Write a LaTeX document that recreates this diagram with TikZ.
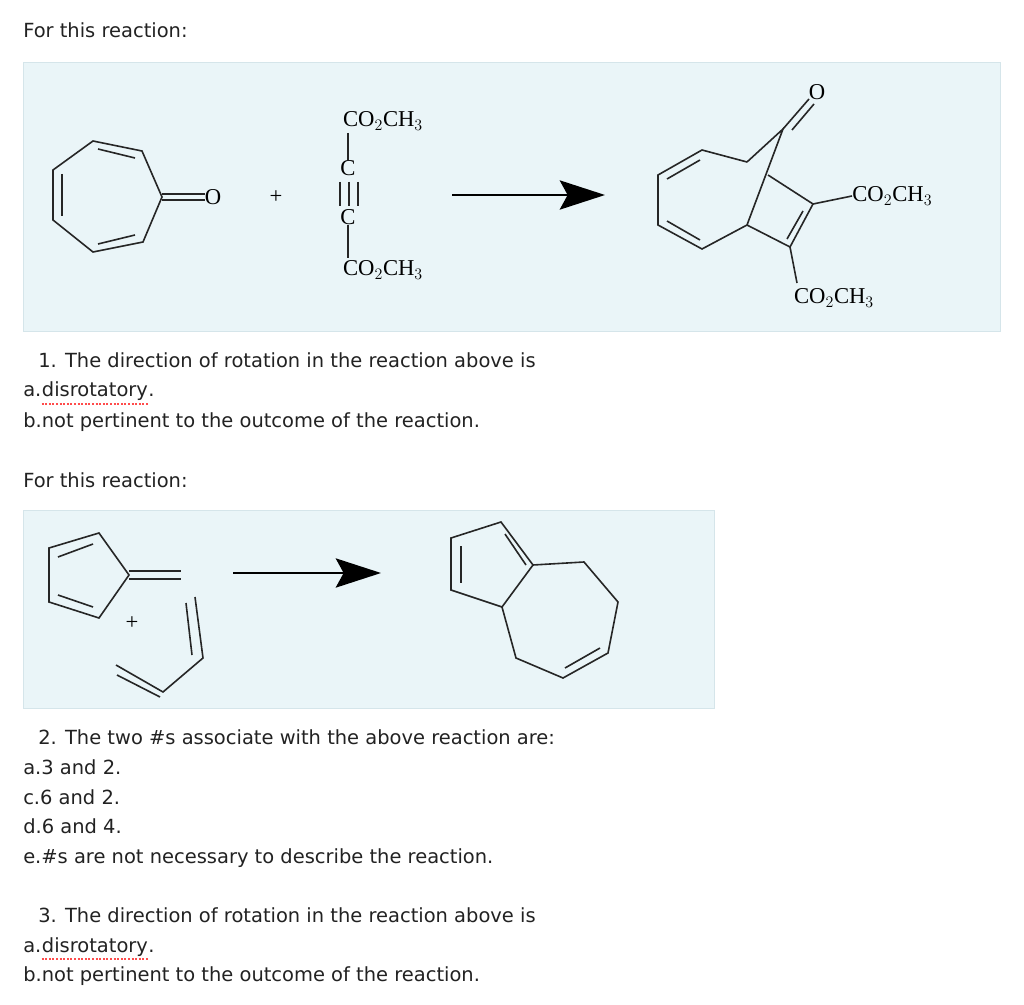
\documentclass[tikz,border=0pt]{standalone}
\usepackage{fontspec}
\setmainfont{DejaVu Sans}
\newfontfamily\chemf{Liberation Serif}
\usetikzlibrary{arrows.meta,calc}
\definecolor{panel}{HTML}{EAF5F8}
\definecolor{pborder}{HTML}{D5E5EA}
\definecolor{txt}{HTML}{222222}
\tikzset{
 bond/.style={line width=1.2pt,black!85},
 qtext/.style={anchor=base west,inner sep=0pt,text=txt,font=\fontsize{14.6pt}{17pt}\selectfont},
 chem/.style={inner sep=0pt,font=\chemf\fontsize{17pt}{19pt}\selectfont},
 rarrow/.style={line width=1.2pt,-{Stealth[length=34pt,width=22pt,inset=6pt]}},
 redul/.style={red!70,line width=2pt,dash pattern=on 1.5pt off 1.2pt}
}
\begin{document}
\begin{tikzpicture}[x=0.75pt,y=-0.75pt]
\useasboundingbox (0,0) rectangle (1024,1005);
\fill[white] (0,0) rectangle (1024,1005);
\draw[pborder,fill=panel] (23,62) rectangle (1000,331);
\draw[pborder,fill=panel] (23,510) rectangle (714,708);
% texts
\node[qtext] (t1) at (23,38) {For this reaction:};
\node[qtext] (t2) at (38,368) {1. The direction of rotation in the reaction above is};
\node[qtext] (t3a) at (23,397) {a.\ };
\node[qtext] (t3b) at (t3a.base east) {disrotatory};
\node[qtext] (t3c) at (t3b.base east) {.};
\node[qtext] (t4) at (23,427) {b.not pertinent to the outcome of the reaction.};
\node[qtext] (t5) at (23,487) {For this reaction:};
\node[qtext] (t6) at (38,744) {2. The two \#s associate with the above reaction are:};
\node[qtext] (t7) at (23,774) {a.3 and 2.};
\node[qtext] (t8) at (23,804) {c.6 and 2.};
\node[qtext] (t9) at (23,833) {d.6 and 4.};
\node[qtext] (t10) at (23,863) {e.\#s are not necessary to describe the reaction.};
\node[qtext] (t11) at (38,922) {3. The direction of rotation in the reaction above is};
\node[qtext] (t12a) at (23,952) {a.};
\node[qtext] (t12b) at (t12a.base east) {disrotatory};
\node[qtext] (t12c) at (t12b.base east) {.};
\draw[redul] ($(t3b.base west)+(0,7)$) -- ($(t3b.base east)+(0,7)$);
\draw[redul] ($(t12b.base west)+(0,7)$) -- ($(t12b.base east)+(0,7)$);
\node[qtext] (t13) at (23,981) {b.not pertinent to the outcome of the reaction.};
% tropone
\coordinate (a1) at (93,141); \coordinate (a2) at (142,151); \coordinate (a3) at (162,197);
\coordinate (a4) at (143,242); \coordinate (a5) at (93,252); \coordinate (a6) at (53,220); \coordinate (a7) at (53,170);
\draw[bond] (a1)--(a2)--(a3)--(a4)--(a5)--(a6)--(a7)--cycle;
\draw[bond] (98,149)--(135,158);
\draw[bond] (62,174)--(62,216);
\draw[bond] (98,244)--(135,235);
\node[chem] (o1) at (213,197) {O};
\draw[bond] (162,194)--(o1.west|-162,194);
\draw[bond] (162,200)--(o1.west|-162,200);
\node[chem] (plus1) at (276,197) {+};
% alkyne
\node[chem] (e1) at (383,121) {CO$_2$CH$_3$};
\node[chem] (c1) at (348,168) {C};
\node[chem] (c2) at (348,217) {C};
\node[chem] (e2) at (383,270) {CO$_2$CH$_3$};
\draw[bond] (348,133)--(c1.north);
\draw[bond] (c2.south)--(348,258);
\foreach \x in {340,349,358}{\draw[bond] (\x,182)--(\x,206);}
% arrow 1
\coordinate (r1s) at (452,195); \coordinate (r1e) at (605,195);
\draw[rarrow] (r1s)--(r1e);
% product 1
\node[chem] (o2) at (817,92) {O};
\coordinate (bc) at (783,129); \coordinate (A) at (747,162); \coordinate (B) at (747,225);
\coordinate (p1) at (702,150); \coordinate (p2) at (658,175); \coordinate (p3) at (658,225); \coordinate (p4) at (702,249);
\coordinate (C1) at (813,204); \coordinate (C2) at (790,247);
\draw[bond] (A)--(p1)--(p2)--(p3)--(p4)--(B);
\draw[bond] (700,160)--(667,179);
\draw[bond] (667,221)--(700,240);
\draw[bond] (A)--(bc)--(B);
\draw[bond] (768,175)--(C1)--(C2)--(B);
\draw[bond] (803,211)--(787,239);
\draw[bond] (bc)--(809,99);
\draw[bond] (792,130)--(814,104);
\node[chem,anchor=west] (e3) at (852,196) {CO$_2$CH$_3$};
\draw[bond] (C1)--(e3.west);
\node[chem] (e4) at (834,298) {CO$_2$CH$_3$};
\draw[bond] (C2)--(797,283);
% reaction 2
\coordinate (q1) at (99,533); \coordinate (q2) at (49,548); \coordinate (q3) at (49,602);
\coordinate (q4) at (99,618); \coordinate (q5) at (129,575); \coordinate (q6) at (181,575);
\draw[bond] (q1)--(q2)--(q3)--(q4)--(q5)--cycle;
\draw[bond] (58,557)--(93,544);
\draw[bond] (58,595)--(93,607);
\draw[bond] (129,571)--(181,571);
\draw[bond] (129,579)--(181,579);
\node[chem] (plus2) at (132,623) {+};
\coordinate (d1) at (195,597); \coordinate (d2) at (203,658); \coordinate (d3) at (163,692); \coordinate (d4) at (116,665);
\draw[bond] (d1)--(d2)--(d3)--(d4);
\draw[bond] (186,603)--(192,655);
\draw[bond] (117,675)--(160,697);
\coordinate (r2s) at (233,573); \coordinate (r2e) at (381,573);
\draw[rarrow] (r2s)--(r2e);
\coordinate (s1) at (501,522); \coordinate (s2) at (451,538); \coordinate (s3) at (451,590);
\coordinate (s4) at (502,607); \coordinate (s5) at (533,565); \coordinate (s6) at (584,562);
\coordinate (s7) at (618,602); \coordinate (s8) at (608,653); \coordinate (s9) at (563,678); \coordinate (s10) at (516,658);
\draw[bond] (s1)--(s2)--(s3)--(s4)--(s5)--cycle;
\draw[bond] (s5)--(s6)--(s7)--(s8)--(s9)--(s10)--(s4);
\draw[bond] (461,546)--(461,583);
\draw[bond] (505,534)--(526,565);
\draw[bond] (600,648)--(565,668);
\end{tikzpicture}
\end{document}
